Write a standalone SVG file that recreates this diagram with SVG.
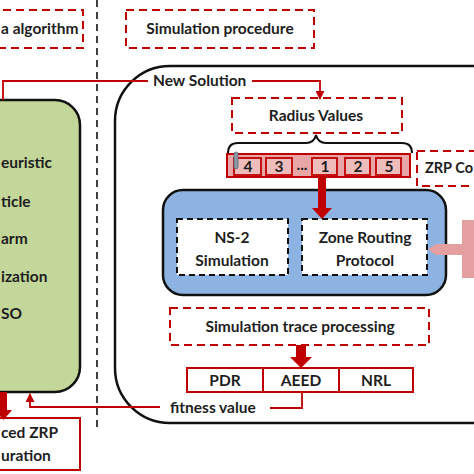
<svg xmlns="http://www.w3.org/2000/svg" width="474" height="474" viewBox="0 0 474 474">
<style>
text{font-family:Lato,"Liberation Sans",sans-serif;font-weight:bold;font-size:15.5px;fill:#1e1e1e}
.m{text-anchor:middle}
.e{text-anchor:end}
.rd{fill:none;stroke:#c00000;stroke-width:2;stroke-dasharray:8 5}
.kd{fill:#fff;stroke:#111;stroke-width:2;stroke-dasharray:6 4}
.rl{fill:none;stroke:#c00000;stroke-width:1.8}
.cell{fill:#efbcbc;stroke:#c00000;stroke-width:1.8}
</style>
<defs>
<marker id="ah" viewBox="0 0 10 10" refX="9" refY="5" markerWidth="5" markerHeight="5" orient="auto">
<path d="M0,0 L10,5 L0,10 z" fill="#c00000"/>
</marker>
</defs>
<rect width="474" height="474" fill="#fff"/>

<g id="title-left">
<rect class="rd" x="-10" y="10" width="93" height="38"/>
<text x="1" y="34">a algorithm</text>
</g>
<g id="title-right">
<rect class="rd" x="126" y="10" width="188" height="38"/>
<text class="m" x="220" y="34">Simulation procedure</text>
</g>

<line x1="97" y1="0" x2="97" y2="428" stroke="#111" stroke-width="1.6" stroke-dasharray="7 5"/>

<g id="procedure-frame">
<rect x="115" y="66" width="430" height="357" rx="55" fill="#fff" stroke="#111" stroke-width="2.5"/>
</g>

<g id="pso">
<rect x="-30" y="100" width="110" height="292" rx="25" fill="#c4d79b" stroke="#111" stroke-width="2.5"/>
<text x="1" y="168">euristic</text>
<text x="1" y="207">ticle</text>
<text x="1" y="244">arm</text>
<text x="1" y="282">ization</text>
<text x="1" y="319">SO</text>
</g>

<g id="optimized">
<rect x="-10" y="418" width="90" height="52" fill="#fff" stroke="#c00000" stroke-width="2"/>
<text x="1" y="438">ced ZRP</text>
<text x="1" y="461">uration</text>
</g>

<g id="radius-values">
<rect class="rd" x="232" y="98" width="170" height="35"/>
<text class="m" x="316" y="121">Radius Values</text>
</g>
<path d="M228,153 Q228,143 238,143 L306,143 Q314,143 316,135 Q318,143 326,143 L402,143 Q412,143 412,153" fill="none" stroke="#111" stroke-width="2"/>

<g id="radius-bar">
<rect x="227" y="154" width="183" height="23" fill="#e8a6a6" stroke="#c00000" stroke-width="2"/>
<rect class="cell" x="234" y="158" width="27" height="17"/>
<rect class="cell" x="266" y="158" width="26" height="17"/>
<rect class="cell" x="312" y="158" width="25" height="17"/>
<rect class="cell" x="345" y="158" width="25" height="17"/>
<rect class="cell" x="376" y="158" width="25" height="17"/>
<text class="m" x="248" y="172">4</text>
<text class="m" x="279" y="172">3</text>
<text class="m" x="302" y="170">...</text>
<text class="m" x="325" y="172">1</text>
<text class="m" x="358" y="172">2</text>
<text class="m" x="389" y="172">5</text>
<rect x="234" y="152" width="4" height="17" rx="2" fill="#8a9aa8" stroke="#5a6a78" stroke-width="0.8"/>
</g>

<g id="zrp-config">
<rect class="rd" x="417" y="151" width="80" height="35"/>
<text x="425" y="173" style="font-size:14.5px">ZRP Co</text>
</g>

<g id="simulator">
<rect x="163" y="190" width="283" height="105" rx="20" fill="#8db3e2" stroke="#111" stroke-width="2.5"/>
</g>
<g id="ns2">
<rect class="kd" x="177" y="219" width="111" height="56"/>
<text class="m" x="232" y="243">NS-2</text>
<text class="m" x="232" y="266">Simulation</text>
</g>
<g id="zrp">
<rect class="kd" x="302" y="219" width="125" height="56"/>
<text class="m" x="365" y="243">Zone Routing</text>
<text class="m" x="365" y="266">Protocol</text>
</g>

<g id="trace">
<rect class="rd" x="170" y="308" width="259" height="37"/>
<text class="m" x="300" y="332">Simulation trace processing</text>
</g>

<g id="metrics">
<rect x="187" y="368" width="76" height="24" fill="#fff" stroke="#c00000" stroke-width="2"/>
<rect x="263" y="368" width="76" height="24" fill="#fff" stroke="#c00000" stroke-width="2"/>
<rect x="339" y="368" width="74" height="24" fill="#fff" stroke="#c00000" stroke-width="2"/>
<text class="m" x="225" y="386">PDR</text>
<text class="m" x="301" y="386">AEED</text>
<text class="m" x="376" y="386">NRL</text>
</g>

<g id="connectors">
<polyline class="rl" points="3,100 3,81 148,81"/>
<text x="153" y="86">New Solution</text>
<polyline class="rl" points="252,81 320,81 320,99" marker-end="url(#ah)"/>
<polygon points="318,177 326,177 326,208 332,208 322,219 312,208 318,208" fill="#c00000"/>
<polygon points="296,345 306,345 306,357 312,357 301,368 290,357 296,357" fill="#c00000"/>
<polygon points="0,392 7,392 7,410 12,410 3.5,420 -5,410 0,410" fill="#c00000"/>
<polyline class="rl" points="302,392 302,408 270,408"/>
<text x="170" y="413">fitness value</text>
<polyline class="rl" points="160,407 30,407 30,394" marker-end="url(#ah)"/>
<path d="M463,244 L436,244 L428,249.5 L436,255 L463,255 z" fill="#e4a0a0"/>
<rect x="462" y="220" width="14" height="58" fill="#e4a0a0"/>
</g>
</svg>
